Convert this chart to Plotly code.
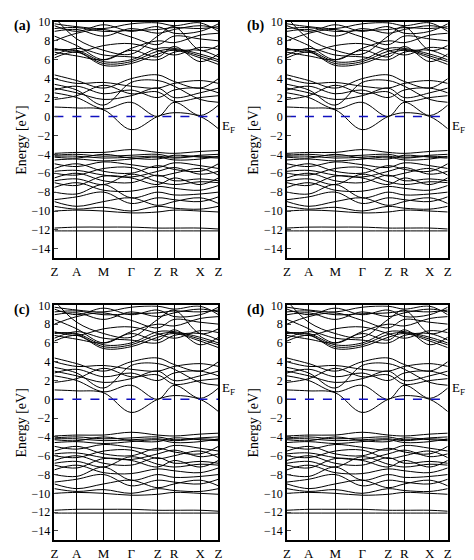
import plotly.graph_objects as go
from plotly.subplots import make_subplots

# high-symmetry path
k_pos = [0, 0.68, 1.50, 2.34, 3.15, 3.65, 4.44, 5.00]
k_labels = ['Z', 'A', 'M', 'Γ', 'Z', 'R', 'X', 'Z']

# band energies (eV) read at each k-point
mid_bands = [
    [1.0, 0.9, 0.7, -1.4, 0.0, 0.4, 0.0, -1.3],
    [2.5, 2.0, 0.8, 1.5, 0.0, 1.5, 0.1, 1.2],
    [3.0, 2.5, 1.8, 2.2, 3.0, 2.0, 2.5, 3.0],
    [4.4, 3.8, 3.0, 4.0, 4.4, 3.7, 3.0, 4.0],
    [4.0, 3.5, 3.6, 3.2, 3.0, 3.5, 3.8, 3.5],
    [2.8, 3.2, 2.4, 2.8, 2.0, 2.8, 3.0, 2.5],
    [1.8, 2.2, 3.3, 2.4, 2.6, 1.6, 2.0, 2.2],
    [3.4, 2.8, 1.2, 3.6, 3.8, 3.2, 1.8, 1.5],
]
cond_bands = [
    [6.2, 6.8, 5.4, 5.6, 6.6, 7.0, 6.2, 5.5],
    [7.0, 7.0, 5.8, 6.0, 7.2, 7.2, 6.6, 6.0],
    [6.5, 7.2, 6.5, 6.3, 6.0, 6.8, 7.0, 6.3],
    [7.2, 6.8, 7.5, 7.7, 7.0, 6.5, 7.3, 7.1],
    [8.5, 7.5, 6.0, 7.2, 8.0, 7.8, 8.6, 8.8],
    [9.0, 9.2, 8.5, 9.3, 8.8, 9.2, 9.6, 9.3],
    [9.6, 9.0, 9.7, 9.0, 9.5, 8.8, 9.0, 9.8],
    [8.0, 8.8, 9.2, 8.4, 7.6, 8.5, 8.2, 8.0],
    [9.8, 9.5, 9.3, 9.8, 9.9, 9.6, 9.9, 9.0],
    [10.5, 8.2, 7.0, 6.6, 8.5, 9.5, 7.0, 7.5],
    [6.8, 6.4, 6.0, 7.0, 6.3, 7.4, 5.8, 6.6],
    [9.3, 9.4, 9.0, 9.1, 9.2, 9.4, 9.3, 9.5],
    [7.1, 6.9, 5.6, 5.8, 6.9, 7.1, 6.4, 5.8],
]
val_bands = [
    [-3.9, -3.8, -3.8, -3.5, -3.8, -3.9, -3.7, -3.6],
    [-4.1, -4.0, -4.2, -4.1, -4.0, -4.3, -4.1, -4.0],
    [-4.3, -4.4, -4.0, -4.4, -4.5, -4.1, -4.3, -4.4],
    [-4.6, -4.5, -4.7, -4.5, -4.3, -4.6, -4.5, -4.2],
    [-4.2, -4.2, -4.4, -4.3, -4.2, -4.4, -4.2, -4.3],
    [-5.0, -5.3, -4.8, -5.1, -5.4, -4.9, -5.2, -5.5],
    [-5.5, -5.0, -5.8, -6.0, -5.2, -5.6, -5.8, -5.0],
    [-5.8, -5.7, -6.2, -6.4, -5.8, -5.4, -6.1, -5.8],
    [-6.0, -6.2, -5.5, -5.4, -6.3, -6.0, -5.5, -6.2],
    [-6.5, -6.0, -6.8, -7.0, -6.2, -6.8, -6.6, -6.8],
    [-6.8, -6.6, -7.2, -6.1, -6.9, -7.2, -6.9, -7.0],
    [-7.0, -7.3, -6.3, -6.5, -7.2, -6.5, -7.2, -6.5],
    [-7.5, -7.0, -7.8, -7.9, -7.4, -7.6, -7.8, -7.3],
    [-8.0, -8.2, -7.2, -8.6, -8.0, -8.3, -8.2, -8.0],
    [-8.8, -8.5, -8.0, -9.2, -8.6, -8.8, -9.0, -8.5],
    [-9.0, -9.5, -9.0, -8.6, -9.4, -9.0, -8.6, -9.2],
    [-9.5, -9.8, -9.6, -10.0, -9.5, -9.7, -9.8, -9.5],
    [-10.0, -9.9, -10.0, -10.2, -10.1, -9.9, -10.0, -10.1],
]
flat_bands = [
    [-11.8, -11.7, -11.7, -11.7, -11.8, -11.8, -11.8, -11.9],
    [-12.1, -12.1, -12.1, -12.1, -12.1, -12.1, -12.1, -12.1],
]
panel_names = ['(a)', '(b)', '(c)', '(d)']

all_bands = mid_bands + cond_bands + val_bands + flat_bands
font = 'Liberation Serif, Times New Roman, serif'

xdoms = [[0.091, 0.443], [0.59, 0.935]]
ydoms = [[0.56, 0.9875], [0.05, 0.475]]

fig = make_subplots(rows=2, cols=2)
for i, name in enumerate(panel_names):
    r, c = i // 2 + 1, i % 2 + 1
    for b in all_bands:
        fig.add_trace(go.Scatter(x=k_pos, y=b, mode='lines', line_shape='spline',
                                 line=dict(color='black', width=1), showlegend=False,
                                 hoverinfo='skip'), row=r, col=c)
    fig.add_trace(go.Scatter(x=[k_pos[0], k_pos[-1]], y=[0, 0], mode='lines',
                             line=dict(color='#1010c0', width=1.5, dash='dash'),
                             showlegend=False), row=r, col=c)
    fig.update_xaxes(range=[0, 5], tickvals=k_pos, ticktext=k_labels,
                     showgrid=True, gridcolor='black', gridwidth=1,
                     showline=True, linecolor='black', linewidth=1.5, mirror=True,
                     ticks='', zeroline=False, domain=xdoms[c - 1],
                     tickfont=dict(size=13), row=r, col=c)
    fig.update_yaxes(range=[-15, 10], dtick=2, showgrid=False, zeroline=False,
                     showline=True, linecolor='black', linewidth=1.5, mirror=True,
                     ticks='inside', ticklen=4, title_text='Energy [eV]',
                     title_standoff=2, title_font=dict(size=14),
                     domain=ydoms[r - 1], row=r, col=c)
    dx, dy = xdoms[c - 1], ydoms[r - 1]
    fig.add_annotation(x=0.0 if c == 1 else 0.50, y=dy[1] + 0.01, xref='paper', yref='paper',
                       text='<b>' + name + '</b>', showarrow=False,
                       xanchor='left', yanchor='top', font=dict(size=14))
    fig.add_annotation(x=dx[1] + 0.004, y=dy[0] + (dy[1] - dy[0]) * 15 / 25,
                       xref='paper', yref='paper', text='E<sub>F</sub>',
                       showarrow=False, xanchor='left', font=dict(size=13))

fig.update_layout(width=474, height=560, plot_bgcolor='white', paper_bgcolor='white',
                  margin=dict(l=0, r=0, t=0, b=0),
                  font=dict(family=font, size=12, color='black'))
fig.write_html("out.html")
